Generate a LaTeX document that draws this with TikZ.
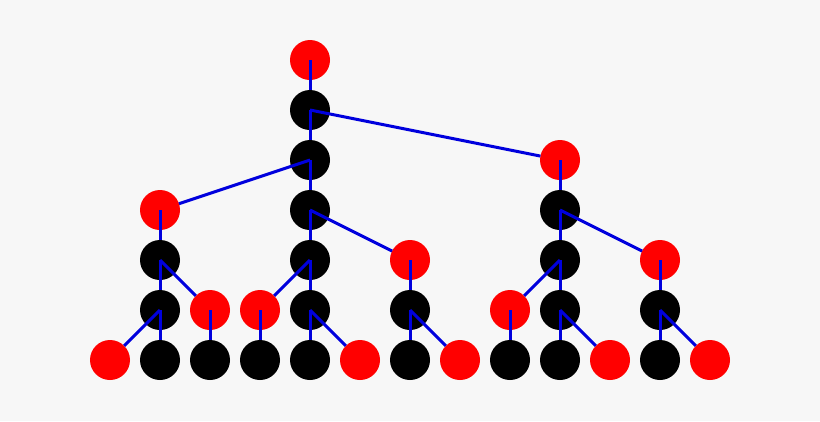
\documentclass[tikz,border=0pt]{standalone}
\definecolor{bgc}{RGB}{247,247,247}
\definecolor{edgeblue}{RGB}{0,0,221}
\tikzset{
  rn/.style={circle,fill=red,minimum size=40pt,inner sep=0pt,outer sep=0pt},
  bn/.style={circle,fill=black,minimum size=40pt,inner sep=0pt,outer sep=0pt},
  ed/.style={draw=edgeblue,line width=3pt}
}
\begin{document}
\begin{tikzpicture}[x=1pt,y=-1pt]
\fill[bgc] (0,0) rectangle (820,421);
\useasboundingbox (0,0) rectangle (820,421);
% nodes
\node[rn] (r0) at (310,60) {};
\node[bn] (a1) at (310,110) {};
\node[bn] (a2) at (310,160) {};
\node[rn] (b1) at (560,160) {};
\node[rn] (c1) at (160,210) {};
\node[bn] (a3) at (310,210) {};
\node[bn] (b2) at (560,210) {};
\node[bn] (c2) at (160,260) {};
\node[bn] (a4) at (310,260) {};
\node[rn] (d1) at (410,260) {};
\node[bn] (b3) at (560,260) {};
\node[rn] (e1) at (660,260) {};
\node[bn] (c3) at (160,310) {};
\node[rn] (f1) at (210,310) {};
\node[rn] (g1) at (260,310) {};
\node[bn] (a5) at (310,310) {};
\node[bn] (d2) at (410,310) {};
\node[rn] (h1) at (510,310) {};
\node[bn] (b4) at (560,310) {};
\node[bn] (e2) at (660,310) {};
\node[rn] (i1) at (110,360) {};
\node[bn] (c4) at (160,360) {};
\node[bn] (f2) at (210,360) {};
\node[bn] (g2) at (260,360) {};
\node[bn] (a6) at (310,360) {};
\node[rn] (j1) at (360,360) {};
\node[bn] (d3) at (410,360) {};
\node[rn] (k1) at (460,360) {};
\node[bn] (h2) at (510,360) {};
\node[bn] (b5) at (560,360) {};
\node[rn] (l1) at (610,360) {};
\node[bn] (e3) at (660,360) {};
\node[rn] (m1) at (710,360) {};
% edges
\foreach \p/\c in {r0/a1, a1/a2, a1/b1, a2/a3, a2/c1, c1/c2, c2/c3, c2/f1,
  c3/i1, c3/c4, f1/f2, a3/a4, a3/d1, a4/g1, a4/a5, g1/g2, a5/a6, a5/j1,
  d1/d2, d2/d3, d2/k1, b1/b2, b2/b3, b2/e1, b3/h1, b3/b4, h1/h2, b4/b5,
  b4/l1, e1/e2, e2/e3, e2/m1}
  \draw[ed] (\p.center) -- (\c);
\end{tikzpicture}
\end{document}
